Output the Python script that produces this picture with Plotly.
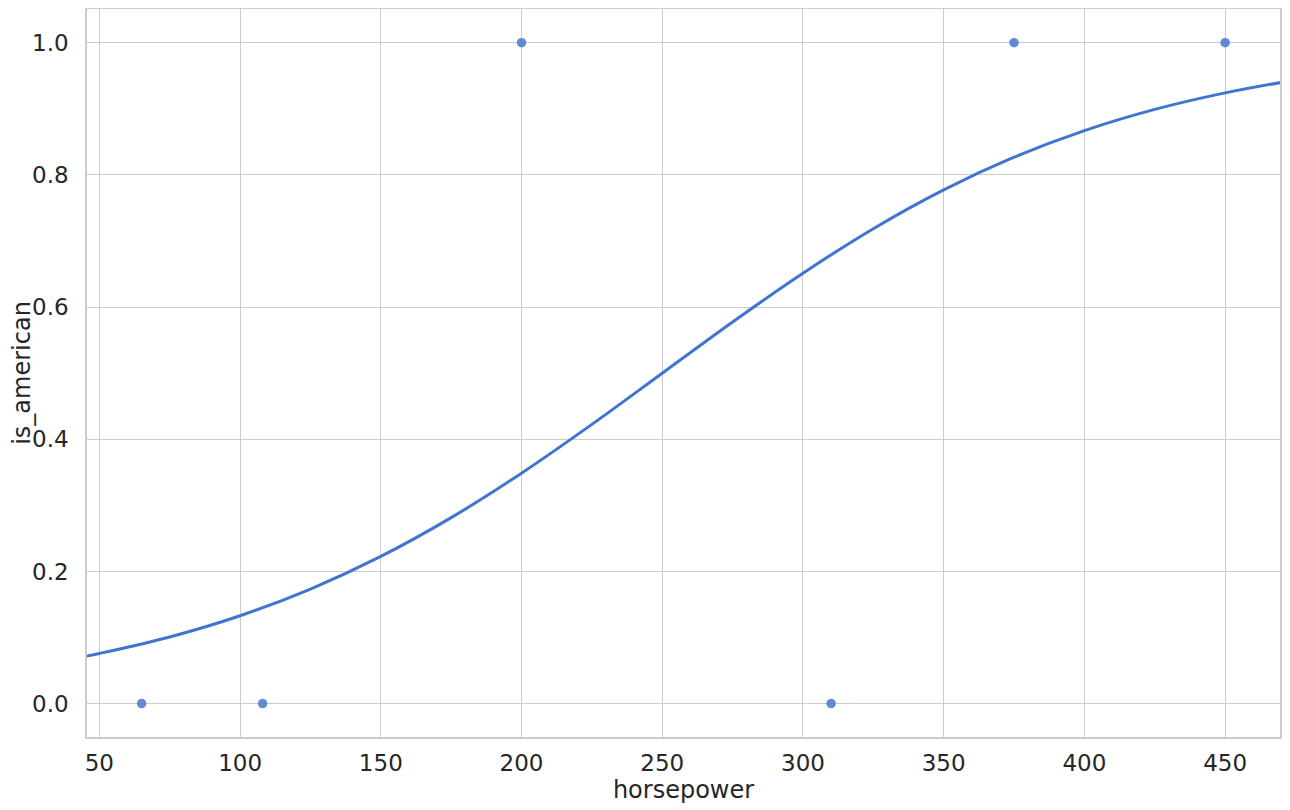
import plotly.graph_objects as go

# observed data points
horsepower = [65, 108, 200, 310, 375, 450]
is_american = [0, 0, 1, 0, 1, 1]

# logistic fit curve
curve_x = [45, 50, 75, 100, 125, 150, 175, 200, 225, 250, 275, 300, 325, 350, 375, 400, 425, 450, 470]
curve_y = [0.0716, 0.0759, 0.1009, 0.1330, 0.1733, 0.2227, 0.2814, 0.3487, 0.4225, 0.5000,
           0.5775, 0.6513, 0.7186, 0.7773, 0.8267, 0.8670, 0.8991, 0.9241, 0.9400]

x_ticks = [50, 100, 150, 200, 250, 300, 350, 400, 450]
y_ticks = [0.0, 0.2, 0.4, 0.6, 0.8, 1.0]

blue = "#4878d0"
text_color = "#262626"
grid_color = "#cccccc"

fig = go.Figure()
fig.add_trace(go.Scatter(
    x=curve_x, y=curve_y, mode="lines", line=dict(color="#3f75d1", width=3, shape="spline"),
    showlegend=False, hoverinfo="skip"))
fig.add_trace(go.Scatter(
    x=horsepower, y=is_american, mode="markers",
    marker=dict(color=blue, size=9.5, opacity=0.85, line=dict(width=0)),
    showlegend=False))

# page body adds an 8px offset, so the figure is sized to compensate
fig.update_layout(
    width=1282, height=802,
    margin=dict(l=79, r=10, t=1, b=73),
    paper_bgcolor="white", plot_bgcolor="white",
    font=dict(family="DejaVu Sans", size=23, color=text_color),
)
fig.update_xaxes(
    range=[45.6, 469.5], tickvals=x_ticks, ticktext=[str(v) for v in x_ticks],
    showgrid=True, gridcolor=grid_color, gridwidth=1.3, zeroline=False,
    showline=True, linecolor=grid_color, linewidth=1.5, mirror=True,
    ticks="", ticklabelstandoff=5, automargin=False,
    title=dict(text="horsepower", font=dict(size=24, color=text_color), standoff=0),
)
fig.update_yaxes(
    range=[-0.0505, 1.051], tickvals=y_ticks, ticktext=[f"{v:.1f}" for v in y_ticks],
    showgrid=True, gridcolor=grid_color, gridwidth=1.3, zeroline=False,
    showline=True, linecolor=grid_color, linewidth=1.5, mirror=True,
    ticks="", ticklabelstandoff=12, automargin=False,
    title=dict(text="is_american", font=dict(size=24, color=text_color), standoff=2),
)

fig.write_html("out.html")
